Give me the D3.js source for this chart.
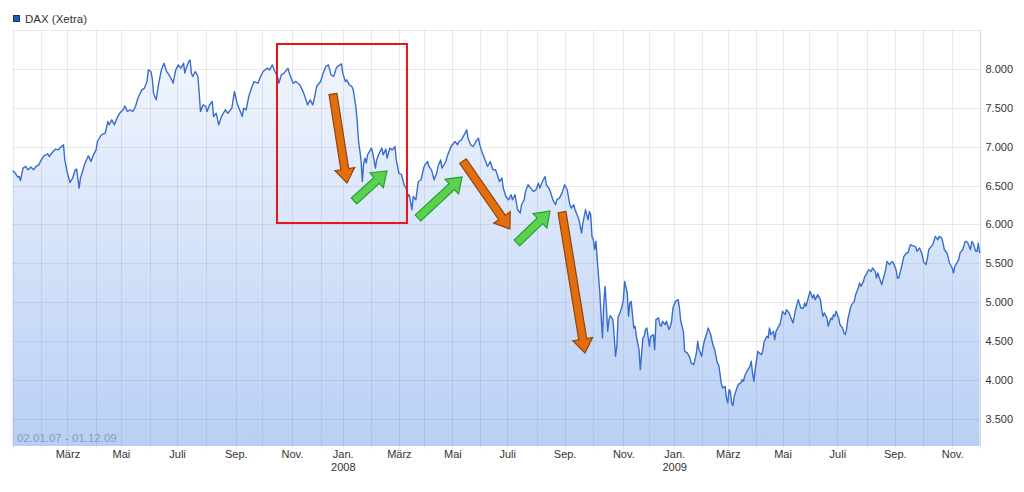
<!DOCTYPE html>
<html lang="de">
  <head>
    <meta charset="UTF-8" />
    <title>DAX (Xetra) 02.01.07 - 01.12.09</title>
    <script src="https://d3js.org/d3.v7.min.js"></script>
    <style>
      body {
        margin: 0;
        background: #fff;
        font-family: "Liberation Sans", Arial, sans-serif;
      }
      svg {
        display: block;
      }
      .axis text {
        font-size: 11px;
        fill: #333;
        font-family: "Liberation Sans", Arial, sans-serif;
      }
    </style>
  </head>
  <body>
    <svg width="1024" height="492"></svg>

    <script>
      // [Xetra trading day index from 02.01.2007, close]
      const daxSeries = [
        [0,6693],[2,6660],[4,6608],[5,6617],[6,6565],[8,6724],[10,6745],[12,6702],[14,6737],[16,6702],
        [18,6745],[20,6766],[22,6830],[24,6882],[27,6908],[28,6873],[31,6937],[33,6968],[35,6959],[37,6994],
        [39,7023],[40,6830],[42,6660],[44,6539],[46,6596],[48,6702],[49,6711],[50,6596],[51,6467],[52,6596],
        [54,6702],[55,6766],[58,6882],[59,6852],[60,6809],[62,6895],[64,6959],[65,7066],[68,7152],[71,7174],
        [73,7323],[74,7280],[76,7345],[78,7280],[80,7366],[82,7430],[85,7482],[86,7524],[88,7452],[90,7473],
        [92,7452],[94,7508],[96,7623],[99,7730],[101,7752],[103,7837],[104,7987],[106,7966],[107,7880],[108,7688],
        [110,7602],[112,7816],[114,7987],[116,8073],[118,7966],[119,7945],[122,7859],[123,7816],[125,7987],[127,8051],
        [129,8009],[131,8073],[132,7945],[133,8009],[135,8094],[136,8115],[137,7945],[138,7902],[140,7966],[142,7902],
        [143,7688],[144,7452],[146,7538],[148,7516],[149,7452],[151,7538],[153,7580],[154,7387],[156,7430],[158,7280],
        [160,7387],[163,7473],[165,7430],[168,7495],[170,7709],[172,7559],[174,7473],[176,7387],[177,7495],[179,7473],
        [181,7645],[183,7752],[185,7837],[188,7816],[190,7902],[192,7966],[195,8009],[197,7987],[199,8051],[201,7966],
        [203,7902],[204,7816],[206,7923],[208,7945],[211,8009],[212,7945],[213,7902],[215,7816],[217,7837],[220,7795],
        [222,7730],[224,7645],[226,7538],[228,7602],[230,7538],[231,7602],[233,7773],[236,7837],[238,7945],[240,8030],
        [242,8051],[244,7923],[246,7902],[248,8009],[249,8030],[252,8064],[253,7945],[255,7837],[256,7859],[258,7795],
        [260,7773],[261,7730],[263,7516],[264,7345],[265,7088],[267,6830],[268,6552],[269,6788],[270,6852],[271,6788],
        [272,6895],[275,6981],[276,6917],[277,6830],[278,6724],[279,6830],[281,6917],[283,6981],[284,6895],[286,6968],
        [287,6852],[289,6981],[291,6959],[293,7002],[294,6830],[296,6660],[298,6638],[300,6510],[302,6445],[303,6359],
        [304,6381],[306,6188],[307,6359],[309,6316],[310,6445],[311,6552],[313,6574],[315,6724],[316,6766],[318,6809],
        [319,6745],[321,6702],[323,6574],[325,6660],[326,6745],[328,6830],[329,6724],[332,6809],[333,6873],[334,6917],
        [336,7002],[339,7066],[341,7023],[342,7066],[344,7088],[346,7152],[348,7216],[349,7109],[351,7023],[353,7002],
        [355,7066],[357,7109],[358,7023],[360,6917],[362,6830],[364,6745],[366,6809],[368,6702],[370,6702],[371,6660],
        [373,6552],[375,6596],[376,6467],[378,6359],[380,6316],[382,6381],[383,6316],[385,6381],[387,6188],[389,6145],
        [390,6253],[392,6316],[393,6424],[395,6510],[397,6467],[399,6424],[401,6445],[403,6531],[404,6467],[406,6552],
        [408,6616],[409,6510],[411,6467],[412,6424],[414,6316],[416,6253],[417,6316],[419,6338],[421,6402],[423,6510],
        [425,6445],[427,6253],[428,6210],[430,6253],[431,6188],[432,6145],[434,6060],[436,5889],[437,6017],[439,6188],
        [440,6124],[441,6060],[442,6167],[443,6124],[444,5840],[445,5806],[446,5678],[447,5785],[448,5550],[449,5332],
        [450,5118],[451,4818],[452,4540],[453,4989],[454,5203],[455,4946],[456,4625],[457,4775],[458,4826],[460,4775],
        [461,4561],[462,4304],[463,4433],[464,4818],[465,4840],[467,4946],[468,5032],[469,5267],[471,5118],[472,4818],
        [473,4989],[474,5010],[476,4668],[477,4690],[478,4561],[480,4390],[481,4132],[483,4540],[484,4561],[485,4647],
        [486,4668],[488,4433],[489,4561],[491,4582],[492,4390],[493,4775],[495,4797],[496,4711],[497,4690],[498,4754],
        [500,4711],[501,4754],[503,4647],[504,4690],[505,4754],[506,4925],[508,5010],[510,5032],[511,4925],[512,4754],
        [514,4625],[515,4368],[517,4347],[519,4283],[520,4218],[522,4197],[524,4347],[525,4497],[526,4390],[528,4304],
        [529,4411],[530,4497],[532,4604],[533,4668],[535,4582],[536,4497],[537,4433],[538,4390],[540,4218],[541,4197],
        [542,4090],[543,3962],[544,3897],[546,3918],[547,3768],[548,3704],[549,3875],[550,3854],[551,3704],[552,3670],
        [553,3790],[555,3897],[556,3939],[558,3961],[559,4004],[560,3982],[561,4047],[562,4090],[565,4175],[566,4240],
        [567,4090],[568,3982],[569,4132],[571,4368],[572,4347],[574,4325],[575,4390],[576,4497],[578,4561],[579,4540],
        [580,4668],[581,4582],[583,4625],[584,4518],[585,4625],[587,4690],[588,4711],[590,4882],[592,4840],[593,4904],
        [595,4861],[597,4775],[598,4732],[600,4904],[602,5032],[604,4925],[606,4925],[607,4989],[608,4946],[611,5139],
        [613,5053],[614,5096],[615,5032],[617,5096],[619,5032],[620,4904],[621,4818],[622,4861],[624,4797],[625,4690],
        [627,4797],[628,4775],[629,4840],[630,4818],[631,4882],[633,4797],[634,4711],[636,4668],[637,4604],[638,4582],
        [639,4647],[640,4775],[642,4925],[643,4968],[645,5010],[646,5096],[648,5182],[649,5246],[650,5203],[652,5267],
        [653,5332],[654,5353],[656,5417],[658,5396],[659,5439],[661,5396],[662,5310],[663,5375],[666,5225],[667,5289],
        [669,5417],[670,5524],[672,5482],[674,5524],[675,5503],[677,5417],[678,5310],[679,5310],[681,5439],[683,5589],
        [685,5632],[686,5632],[688,5739],[691,5718],[692,5710],[693,5653],[695,5697],[697,5610],[698,5524],[700,5482],
        [701,5567],[702,5674],[704,5718],[705,5739],[706,5782],[707,5846],[709,5803],[710,5846],[712,5824],[713,5760],
        [714,5674],[716,5632],[717,5567],[718,5503],[720,5439],[721,5375],[722,5460],[725,5546],[726,5632],[727,5653],
        [728,5674],[730,5782],[731,5782],[732,5760],[734,5674],[735,5782],[736,5760],[738,5653],[739,5653],[740,5760],
        [741,5632]
      ];

      const seriesName = 'DAX (Xetra)';
      const rangeLabel = '02.01.07 - 01.12.09';
      const yTicks = [3500, 4000, 4500, 5000, 5500, 6000, 6500, 7000, 7500, 8000];
      const monthNames = ['Jan.', 'Feb.', 'März', 'Apr.', 'Mai', 'Juni', 'Juli', 'Aug.', 'Sep.', 'Okt.', 'Nov.', 'Dez.'];
      const labelledMonths = [0, 2, 4, 6, 8, 10];
      const xetraHolidays = [
        '2007-01-01', '2007-04-06', '2007-04-09', '2007-05-01', '2007-12-24', '2007-12-25', '2007-12-26', '2007-12-31',
        '2008-01-01', '2008-03-21', '2008-03-24', '2008-05-01', '2008-12-24', '2008-12-25', '2008-12-26', '2008-12-31',
        '2009-01-01', '2009-04-10', '2009-04-13', '2009-05-01'
      ];

      // annotations: [fromIndex, fromValue, toIndex, toValue, kind]
      const arrows = [
        [245.5, 7677, 256.2, 6532, 'down'],
        [261.6, 6301, 286.9, 6687, 'up'],
        [310.6, 6082, 344.4, 6609, 'up'],
        [345.1, 6815, 381.1, 5941, 'down'],
        [386.5, 5761, 411.8, 6172, 'up'],
        [421.0, 6159, 438.6, 4346, 'down']
      ];
      const highlightBox = [202.6, 8320, 302.2, 6018];

      const width = 1024, height = 492;
      const plot = { left: 12.5, right: 980.5, top: 30, bottom: 446 };

      // Xetra trading calendar
      const holidaySet = new Set(xetraHolidays);
      const fmtDay = d3.timeFormat('%Y-%m-%d');
      const tradingDays = d3.timeDay
        .range(new Date(2007, 0, 2), new Date(2009, 11, 2))
        .filter((d) => d.getDay() !== 0 && d.getDay() !== 6 && !holidaySet.has(fmtDay(d)));

      const monthStarts = [];
      tradingDays.forEach((d, i) => {
        if (i === 0 || d.getMonth() !== tradingDays[i - 1].getMonth()) {
          monthStarts.push({ date: d, index: i });
        }
      });

      const x = d3.scaleLinear().domain([0, tradingDays.length - 1]).range([12.6, 979.6]);
      const y = d3.scaleLinear().domain([3150, 8500]).range([plot.bottom, plot.top]);

      const de = d3.formatLocale({ decimal: ',', thousands: '.', grouping: [3], currency: ['', ' €'] });
      const fmtValue = de.format(',d');

      const svg = d3.select('svg').attr('viewBox', `0 0 ${width} ${height}`);

      const defs = svg.append('defs');
      const grad = defs.append('linearGradient')
        .attr('id', 'areaFill')
        .attr('gradientUnits', 'userSpaceOnUse')
        .attr('x1', 0).attr('x2', 0)
        .attr('y1', plot.top).attr('y2', plot.bottom);
      grad.append('stop').attr('offset', 0).attr('stop-color', '#f5f8fe');
      grad.append('stop').attr('offset', 1).attr('stop-color', '#b8cff5');

      // area + line
      const area = d3.area()
        .x((d) => x(d[0]))
        .y0(plot.bottom)
        .y1((d) => y(d[1]));
      const line = d3.line()
        .x((d) => x(d[0]))
        .y((d) => y(d[1]));

      svg.append('path')
        .datum(daxSeries)
        .attr('d', area)
        .attr('fill', 'url(#areaFill)');

      // grid
      const gridColor = 'rgba(120,125,140,0.16)';
      const grid = svg.append('g');
      grid.selectAll('line.h')
        .data(yTicks.concat([8500]))
        .join('line')
        .attr('class', 'h')
        .attr('x1', plot.left).attr('x2', plot.right)
        .attr('y1', (d) => Math.round(y(d)) + 0.5)
        .attr('y2', (d) => Math.round(y(d)) + 0.5)
        .attr('stroke', gridColor);
      grid.selectAll('line.v')
        .data(monthStarts)
        .join('line')
        .attr('class', 'v')
        .attr('x1', (d) => Math.round(x(d.index)) + 0.5)
        .attr('x2', (d) => Math.round(x(d.index)) + 0.5)
        .attr('y1', plot.top).attr('y2', plot.bottom + 3)
        .attr('stroke', gridColor);
      grid.append('line')
        .attr('x1', plot.right).attr('x2', plot.right)
        .attr('y1', plot.top).attr('y2', plot.bottom)
        .attr('stroke', gridColor);

      svg.append('path')
        .datum(daxSeries)
        .attr('d', line)
        .attr('fill', 'none')
        .attr('stroke', '#3a6dcb')
        .attr('stroke-width', 1.4)
        .attr('stroke-linejoin', 'round');

      // y axis on the right
      svg.append('g')
        .attr('class', 'axis')
        .attr('transform', `translate(${plot.right},0)`)
        .call(d3.axisRight(y).tickValues(yTicks).tickFormat(fmtValue).tickSize(0).tickPadding(5))
        .call((g) => g.select('.domain').remove());

      // x axis: month labels, year below January
      const labelTicks = monthStarts.filter((d) => d.index > 0 && labelledMonths.includes(d.date.getMonth()));
      const xAxis = svg.append('g')
        .attr('class', 'axis')
        .attr('transform', `translate(0,${plot.bottom})`)
        .call(d3.axisBottom(x)
          .tickValues(labelTicks.map((d) => d.index))
          .tickFormat((i) => monthNames[tradingDays[i].getMonth()])
          .tickSize(0)
          .tickPadding(4))
        .call((g) => g.select('.domain').remove());
      xAxis.selectAll('.tick')
        .filter((i) => tradingDays[i].getMonth() === 0)
        .append('text')
        .attr('y', 17)
        .attr('dy', '0.71em')
        .attr('fill', '#333')
        .text((i) => tradingDays[i].getFullYear());

      // date range in the plot corner
      svg.append('text')
        .attr('x', 17)
        .attr('y', 442)
        .attr('font-size', 11.5)
        .attr('fill', '#8e9bb3')
        .text(rangeLabel);

      // legend
      svg.append('rect')
        .attr('x', 13.5).attr('y', 15.5)
        .attr('width', 6).attr('height', 6)
        .attr('fill', '#2158c2')
        .attr('stroke', '#1b3566');
      svg.append('text')
        .attr('x', 25)
        .attr('y', 22.5)
        .attr('font-size', 11.5)
        .attr('fill', '#333')
        .text(seriesName);

      // red highlight box
      svg.append('rect')
        .attr('x', x(highlightBox[0]))
        .attr('y', y(highlightBox[1]))
        .attr('width', x(highlightBox[2]) - x(highlightBox[0]))
        .attr('height', y(highlightBox[3]) - y(highlightBox[1]))
        .attr('fill', 'none')
        .attr('stroke', '#e8141c')
        .attr('stroke-width', 2);

      // arrows
      function arrowPath(d) {
        const x0 = x(d[0]), y0 = y(d[1]), x1 = x(d[2]), y1 = y(d[3]);
        const len = Math.hypot(x1 - x0, y1 - y0);
        const ux = (x1 - x0) / len, uy = (y1 - y0) / len;
        const nx = -uy, ny = ux;
        const w = 4, hw = 10, hl = 14;
        const bx = x1 - ux * hl, by = y1 - uy * hl;
        const pts = [
          [x0 + nx * w, y0 + ny * w],
          [bx + nx * w, by + ny * w],
          [bx + nx * hw, by + ny * hw],
          [x1, y1],
          [bx - nx * hw, by - ny * hw],
          [bx - nx * w, by - ny * w],
          [x0 - nx * w, y0 - ny * w]
        ];
        return 'M' + pts.map((p) => p.join(',')).join('L') + 'Z';
      }

      svg.append('g')
        .selectAll('path')
        .data(arrows)
        .join('path')
        .attr('d', arrowPath)
        .attr('fill', (d) => (d[4] === 'down' ? '#e26e0e' : '#5ad24e'))
        .attr('stroke', (d) => (d[4] === 'down' ? '#93440a' : '#26a033'))
        .attr('stroke-width', 1.2)
        .attr('stroke-linejoin', 'miter');
    </script>
  </body>
</html>
